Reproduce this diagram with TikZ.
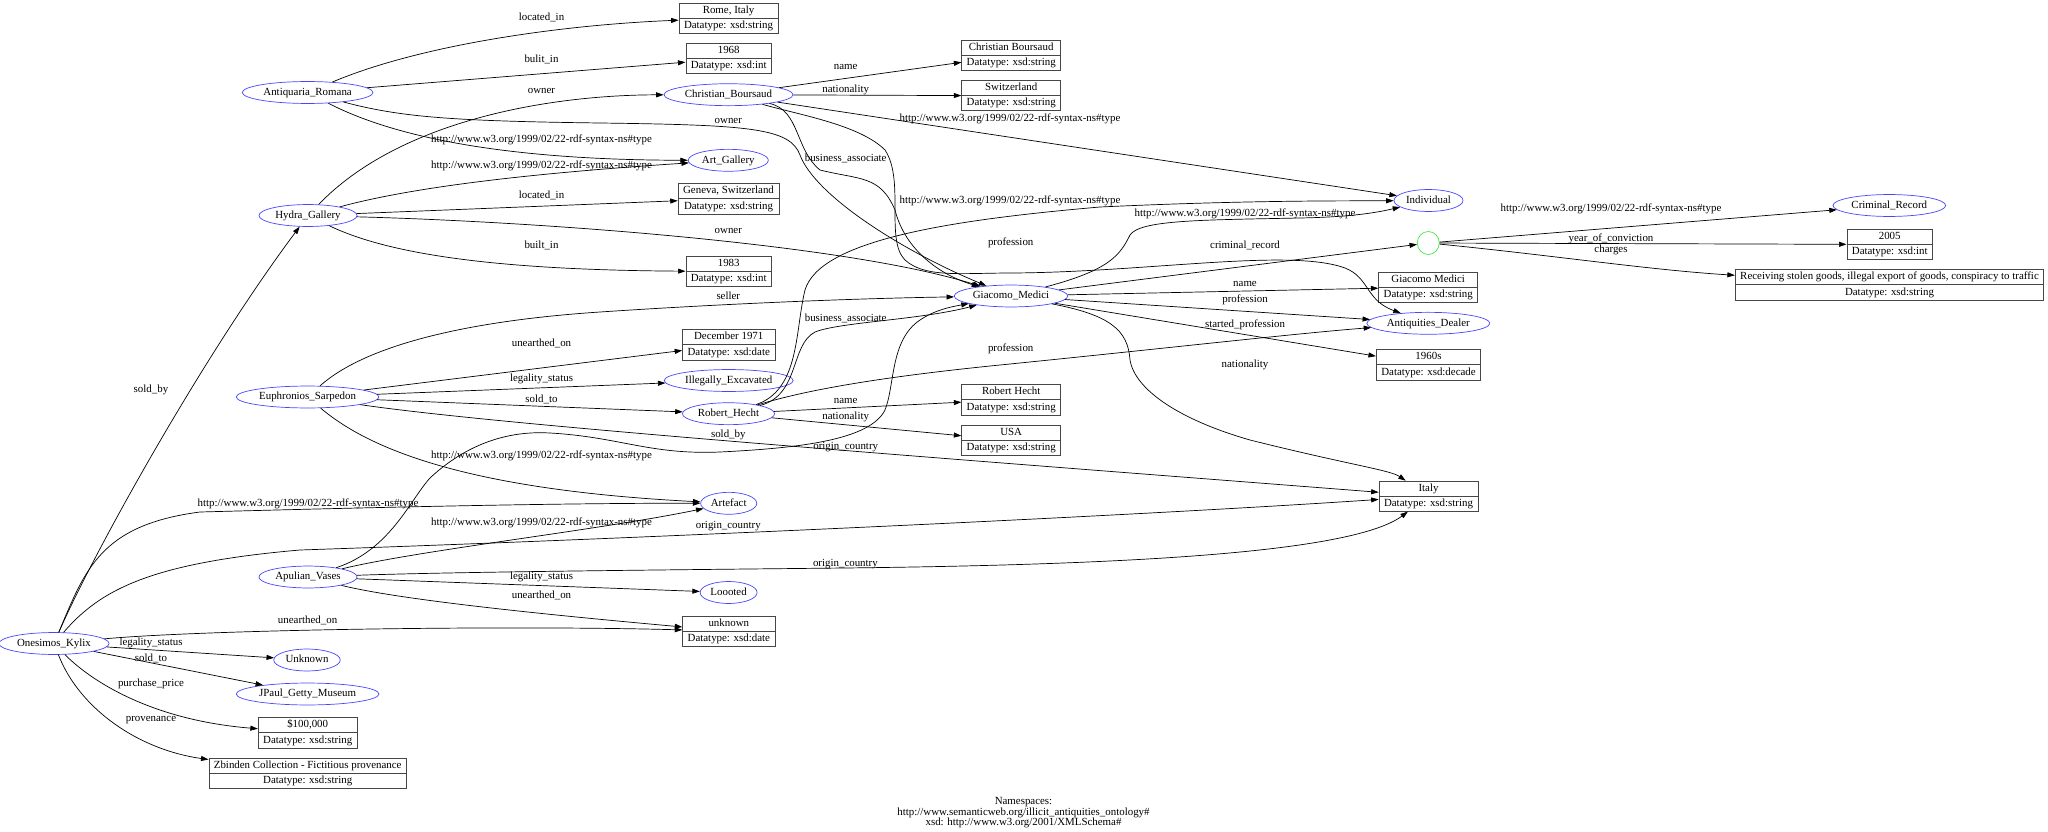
\documentclass[tikz,border=0pt]{standalone}
\usepackage{fontspec}
\setmainfont{Liberation Serif}
\usetikzlibrary{arrows.meta,shapes.geometric,shapes.multipart}

\newcommand{\gvfont}{\fontsize{10.9pt}{12pt}\selectfont}
\newcommand{\rdftype}{http://www.w3.org/1999/02/22-rdf-syntax-ns\#type}
\newcommand{\rowstrut}{\rule[-2.6pt]{0pt}{10.6pt}}

\tikzset{every picture/.style={line width=0.7pt}}
\tikzset{
	cls/.style={ellipse, draw={rgb, 255:red, 70; green, 70; blue, 255}, inner xsep=2pt, inner ysep=2.5pt, text height=8pt, text depth=2.5pt},
	blank/.style={ellipse, draw={rgb, 255:red, 70; green, 230; blue, 70}, minimum width=22pt, minimum height=23pt, inner sep=0pt},
	lit/.style={rectangle split, rectangle split parts=2, draw={rgb, 255:red, 70; green, 70; blue, 70}, anchor=north, inner xsep=5pt, inner ysep=1.9pt},
	lbl/.style={inner sep=0pt, text height=8pt, text depth=2.5pt},
	link/.style={draw=black, -{Triangle[length=7.5pt,width=5pt]}}
}

\begin{document}
\begin{tikzpicture}[x=1pt,y=1pt,yscale=-1,xscale=1,font=\gvfont]
	\useasboundingbox (0,0) rectangle (2048,832);

	%Shape: Ellipse
	\node[cls] (ar) at (307.6,92.5) {Antiquaria\_Romana};
	\node[cls] (hg) at (308,215.5) {Hydra\_Gallery};
	\node[cls] (es) at (307.6,397) {Euphronios\_Sarpedon};
	\node[cls] (av) at (308,577) {Apulian\_Vases};
	\node[cls] (ok) at (54,643.5) {Onesimos\_Kylix};
	\node[cls] (unk) at (307,660) {Unknown};
	\node[cls] (getty) at (307.6,694) {JPaul\_Getty\_Museum};
	\node[cls] (cb) at (728.5,94.7) {Christian\_Boursaud};
	\node[cls] (artgal) at (728.3,160.3) {Art\_Gallery};
	\node[cls] (illeg) at (728.7,380.5) {Illegally\_Excavated};
	\node[cls] (rh) at (728.5,413.7) {Robert\_Hecht};
	\node[cls] (artef) at (728.7,503.3) {Artefact};
	\node[cls] (loot) at (728.6,592.5) {Loooted};
	\node[cls] (gm) at (1011,296) {Giacomo\_Medici};
	\node[cls] (indiv) at (1428.5,200.5) {Individual};
	\node[blank] (crim) at (1428.3,243) {};
	\node[cls] (dealer) at (1428.3,323.3) {Antiquities\_Dealer};
	\node[cls] (crimrec) at (1889.3,205.5) {Criminal\_Record};

	%Shape: Record
	\node[lit] (rome) at (728.5,2.7) {\rowstrut Rome, Italy\nodepart{two}\rowstrut Datatype: xsd:string};
	\node[lit] (y1968) at (728.7,43.3) {\rowstrut 1968\nodepart{two}\rowstrut Datatype: xsd:int};
	\node[lit] (cbname) at (1011.2,40) {\rowstrut Christian Boursaud\nodepart{two}\rowstrut Datatype: xsd:string};
	\node[lit] (cbnat) at (1011.2,80.3) {\rowstrut Switzerland\nodepart{two}\rowstrut Datatype: xsd:string};
	\node[lit] (geneva) at (728.5,183.3) {\rowstrut Geneva, Switzerland\nodepart{two}\rowstrut Datatype: xsd:string};
	\node[lit] (y1983) at (728.7,256) {\rowstrut 1983\nodepart{two}\rowstrut Datatype: xsd:int};
	\node[lit] (dec1971) at (728.7,329.3) {\rowstrut December 1971\nodepart{two}\rowstrut Datatype: xsd:date};
	\node[lit] (rhname) at (1011.2,384.3) {\rowstrut Robert Hecht\nodepart{two}\rowstrut Datatype: xsd:string};
	\node[lit] (rhnat) at (1011.2,425) {\rowstrut USA\nodepart{two}\rowstrut Datatype: xsd:string};
	\node[lit] (gmname) at (1428.2,271.7) {\rowstrut Giacomo Medici\nodepart{two}\rowstrut Datatype: xsd:string};
	\node[lit] (y1960s) at (1428.5,349.3) {\rowstrut 1960s\nodepart{two}\rowstrut Datatype: xsd:decade};
	\node[lit] (y2005) at (1889.7,229) {\rowstrut 2005\nodepart{two}\rowstrut Datatype: xsd:int};
	\node[lit] (charges) at (1889.5,269.3) {\rowstrut Receiving stolen goods, illegal export of goods, conspiracy to traffic\nodepart{two}\rowstrut Datatype: xsd:string};
	\node[lit] (italy) at (1428.5,480.7) {\rowstrut Italy\nodepart{two}\rowstrut Datatype: xsd:string};
	\node[lit] (unkdate) at (728.8,615.7) {\rowstrut unknown\nodepart{two}\rowstrut Datatype: xsd:date};
	\node[lit] (price) at (307.7,717.3) {\rowstrut \$100,000\nodepart{two}\rowstrut Datatype: xsd:string};
	\node[lit] (zbinden) at (307.7,757.7) {\rowstrut Zbinden Collection - Fictitious provenance\nodepart{two}\rowstrut Datatype: xsd:string};

	% Antiquaria_Romana
	\draw[link] (ar) .. controls (420,45) and (560,25) .. (rome);
	\draw[link] (ar) -- (y1968);
	\draw[link] (ar) .. controls (400,117) and (450,121) .. (600,123) .. controls (750,125) and (790,128) .. (800,155) .. controls (815,195) and (900,250) .. (gm);
	\draw[link] (ar) .. controls (380,130) and (480,160) .. (artgal);
	% Hydra_Gallery
	\draw[link] (hg) .. controls (400,120) and (550,95) .. (cb);
	\draw[link] (hg) .. controls (420,185) and (550,172) .. (artgal);
	\draw[link] (hg) -- (geneva);
	\draw[link] (hg) .. controls (550,222) and (850,245) .. (gm);
	\draw[link] (hg) .. controls (390,255) and (500,270) .. (y1983);
	% Christian_Boursaud
	\draw[link] (cb) -- (cbname);
	\draw[link] (cb) -- (cbnat);
	\draw[link] (cb) -- (indiv);
	\draw[link] (cb) .. controls (800,110) and (795,150) .. (820,170) .. controls (860,180) and (880,175) .. (895,210) .. controls (905,250) and (940,275) .. (gm);
	\draw[link] (cb) .. controls (800,115) and (860,125) .. (885,150) .. controls (905,180) and (885,240) .. (905,260) .. controls (925,278) and (960,273) .. (1013,273) .. controls (1150,272) and (1290,248) .. (1345,268) .. controls (1370,278) and (1365,300) .. (dealer);
	% Euphronios_Sarpedon
	\draw[link] (es) .. controls (360,350) and (450,322) .. (600,312) .. controls (750,302) and (880,298) .. (gm);
	\draw[link] (es) -- (dec1971);
	\draw[link] (es) -- (illeg);
	\draw[link] (es) -- (rh);
	\draw[link] (es) .. controls (500,425) and (900,455) .. (italy);
	\draw[link] (es) .. controls (370,450) and (470,490) .. (artef);
	% Robert_Hecht
	\draw[link] (rh) .. controls (800,395) and (790,345) .. (815,332) .. controls (840,322) and (920,320) .. (gm);
	\draw[link] (rh) .. controls (800,390) and (795,330) .. (805,290) .. controls (820,240) and (950,220) .. (1100,207) .. controls (1250,200) and (1350,201) .. (indiv);
	\draw[link] (rh) .. controls (790,395) and (850,380) .. (1000,365) .. controls (1150,350) and (1300,333) .. (dealer);
	\draw[link] (rh) -- (rhname);
	\draw[link] (rh) -- (rhnat);
	% Apulian_Vases
	\draw[link] (av) .. controls (390,550) and (410,500) .. (430,478) .. controls (460,450) and (500,430) .. (550,433) .. controls (620,437) and (650,455) .. (720,452) .. controls (800,448) and (870,440) .. (885,410) .. controls (895,385) and (890,340) .. (920,320) .. controls (935,310) and (950,307) .. (gm);
	\draw[link] (av) .. controls (420,550) and (600,530) .. (artef);
	\draw[link] (av) .. controls (450,572) and (650,570) .. (845,568) .. controls (1100,565) and (1350,555) .. (italy);
	\draw[link] (av) -- (loot);
	\draw[link] (av) .. controls (400,600) and (550,615) .. (unkdate);
	% Onesimos_Kylix
	\draw[link] (ok) .. controls (90,560) and (200,360) .. (hg);
	\draw[link] (ok) .. controls (85,570) and (100,525) .. (200,512) .. controls (350,508) and (550,503) .. (artef);
	\draw[link] (ok) .. controls (100,590) and (150,563) .. (300,550) .. controls (600,540) and (1100,518) .. (italy);
	\draw[link] (ok) .. controls (200,630) and (500,625) .. (unkdate);
	\draw[link] (ok) -- (unk);
	\draw[link] (ok) -- (getty);
	\draw[link] (ok) .. controls (90,680) and (150,720) .. (price);
	\draw[link] (ok) .. controls (80,710) and (140,750) .. (zbinden);
	% Giacomo_Medici
	\draw[link] (gm) .. controls (1110,270) and (1120,255) .. (1130,235) .. controls (1140,220) and (1200,220) .. (1300,218) .. controls (1350,217) and (1375,213) .. (indiv);
	\draw[link] (gm) -- (crim);
	\draw[link] (gm) -- (gmname);
	\draw[link] (gm) -- (dealer);
	\draw[link] (gm) -- (y1960s);
	\draw[link] (gm) .. controls (1110,315) and (1128,330) .. (1130,360) .. controls (1135,390) and (1180,420) .. (1250,440) .. controls (1350,465) and (1390,470) .. (italy);
	% criminal record
	\draw[link] (crim) -- (crimrec);
	\draw[link] (crim) -- (y2005);
	\draw[link] (crim) .. controls (1550,255) and (1650,270) .. (charges);

	% Text Node
	\node[lbl] (l1) at (541.5,17.3) {located\_in};
	\node[lbl] (l2) at (541.5,59.3) {bulit\_in};
	\node[lbl] (l3) at (541.5,90.7) {owner};
	\node[lbl] (l4) at (541.5,140) {\rdftype};
	\node[lbl] (l5) at (541.5,165.7) {\rdftype};
	\node[lbl] (l6) at (541.5,196) {located\_in};
	\node[lbl] (l7) at (541.5,246) {built\_in};
	\node[lbl] (l8) at (728.3,120.7) {owner};
	\node[lbl] (l9) at (728.3,230.7) {owner};
	\node[lbl] (l10) at (845.7,66.7) {name};
	\node[lbl] (l11) at (845.7,89.3) {nationality};
	\node[lbl] (l12) at (845.7,158.7) {business\_associate};
	\node[lbl] (l13) at (1010,119) {\rdftype};
	\node[lbl] (l14) at (1010,200.7) {\rdftype};
	\node[lbl] (l15) at (1010.7,242.7) {profession};
	\node[lbl] (l16) at (728.3,296.7) {seller};
	\node[lbl] (l17) at (845.7,319) {business\_associate};
	\node[lbl] (l18) at (541.5,343.3) {unearthed\_on};
	\node[lbl] (l19) at (1010.7,348.3) {profession};
	\node[lbl] (l20) at (541.5,379) {legality\_status};
	\node[lbl] (l21) at (541.5,399.3) {sold\_to};
	\node[lbl] (l22) at (845.7,400.7) {name};
	\node[lbl] (l23) at (845.7,416.3) {nationality};
	\node[lbl] (l24) at (728.3,435) {sold\_by};
	\node[lbl] (l25) at (845.7,446.7) {origin\_country};
	\node[lbl] (l26) at (541.5,455.7) {\rdftype};
	\node[lbl] (l27) at (151,390) {sold\_by};
	\node[lbl] (l28) at (308,504) {\rdftype};
	\node[lbl] (l29) at (541.5,522.3) {\rdftype};
	\node[lbl] (l30) at (728.3,526) {origin\_country};
	\node[lbl] (l31) at (845.4,564) {origin\_country};
	\node[lbl] (l32) at (541.5,576.7) {legality\_status};
	\node[lbl] (l33) at (541.5,596) {unearthed\_on};
	\node[lbl] (l34) at (307.6,621) {unearthed\_on};
	\node[lbl] (l35) at (151,642.7) {legality\_status};
	\node[lbl] (l36) at (151,658.7) {sold\_to};
	\node[lbl] (l37) at (151,684) {purchase\_price};
	\node[lbl] (l38) at (151,719) {provenance};
	\node[lbl] (l39) at (1245,214) {\rdftype};
	\node[lbl] (l40) at (1245,245.7) {criminal\_record};
	\node[lbl] (l41) at (1245,283.7) {name};
	\node[lbl] (l42) at (1245,300) {profession};
	\node[lbl] (l43) at (1245,325) {started\_profession};
	\node[lbl] (l44) at (1245,365) {nationality};
	\node[lbl] (l45) at (1611,208.3) {\rdftype};
	\node[lbl] (l46) at (1611,238.3) {year\_of\_conviction};
	\node[lbl] (l47) at (1611,250) {charges};

	% Text Node
	\node[align=center, font=\fontsize{10.9pt}{9.4pt}\selectfont] (ns) at (1023.5,812.7) {Namespaces:\\http://www.semanticweb.org/illicit\_antiquities\_ontology\#\\xsd: http://www.w3.org/2001/XMLSchema\#};

\end{tikzpicture}
\end{document}
